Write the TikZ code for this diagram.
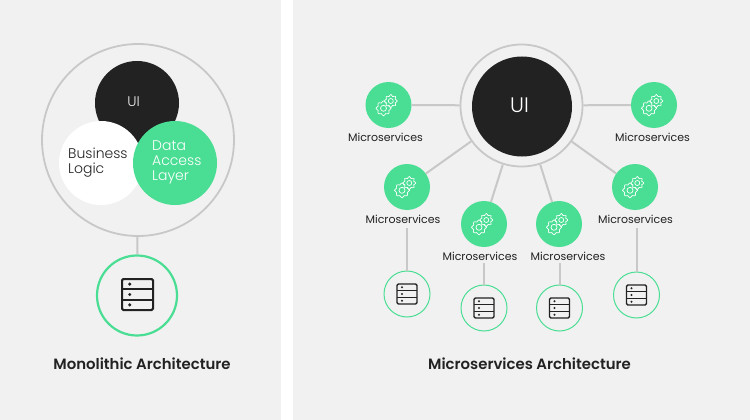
\documentclass[tikz,border=0pt]{standalone}
\usepackage{fontspec}
\setmainfont{Poppins}
\newfontfamily\titlefont{Poppins SemiBold}
\newfontfamily\lightfont{Poppins Light}
\definecolor{panelgray}{HTML}{F1F1F1}
\definecolor{ringgray}{HTML}{C8C8C8}
\definecolor{darkfill}{HTML}{222222}
\definecolor{mintgreen}{HTML}{4ADE94}
\tikzset{
  ring/.style={circle,draw=ringgray,line width=1.8pt,fill=panelgray,minimum size=#1,inner sep=0pt},
  blob/.style={circle,fill=#1,minimum size=84pt,inner sep=0pt},
  blobtext/.style={font=\fontsize{14}{15}\selectfont\lightfont,align=left,inner sep=0pt},
  service/.style={circle,fill=mintgreen,minimum size=46pt,inner sep=0pt},
  store/.style={circle,draw=mintgreen,line width=1pt,fill=panelgray,minimum size=46pt,inner sep=0pt},
  link/.style={draw=ringgray,line width=2pt},
  caption/.style={font=\fontsize{11}{12}\selectfont,text=darkfill,inner sep=0pt},
  title/.style={font=\fontsize{14.9}{16}\selectfont\titlefont,text=darkfill,inner sep=0pt},
  pics/cogs/.style={code={
    \foreach \cx/\cy/\rm/\hole in {-5/3.3/6.6/3,2.3/-4/5.6/2.5} {
      \draw[white,fill=mintgreen,line width=.7pt,line join=round]
        plot[samples at={0,11.25,...,348.75},smooth cycle,tension=.2]
          ({\cx+(\rm+.9*cos(8*\x))*cos(\x)},{\cy+(\rm+.9*cos(8*\x))*sin(\x)});
      \draw[white,line width=.7pt] (\cx,\cy) circle (\hole);
    }
  }},
  pics/rack/.style={code={
    \draw[darkfill,line width=#1,rounded corners=1.4pt] (-10,-10) rectangle (10,10);
    \draw[darkfill,line width=#1] (-10,-3.3) -- (10,-3.3) (-10,3.3) -- (10,3.3);
    \foreach \py in {-6.7,0,6.7} \fill[darkfill] (-5,\py) circle (1.1);
  }},
}
\begin{document}
\begin{tikzpicture}[x=1pt,y=-1pt]
  \useasboundingbox (0,0) rectangle (750,420);
  % panels
  \fill[panelgray] (0,0) rectangle (281,420);
  \fill[panelgray] (293,0) rectangle (750,420);
  % monolith
  \node[store,line width=2.2pt,minimum size=80pt] (mono db) at (137,295.5) {};
  \node[ring=192pt] (mono) at (138,140) {};
  \draw[link] (mono) -- (mono db);
  \node[blob=darkfill] (mono ui) at (137,103) {};
  \node[blob=white] (mono logic) at (101,163) {};
  \node[blob=mintgreen] (mono data) at (175,163) {};
  \node[blobtext,text=panelgray] (ui text) at (133.5,102) {UI};
  \node[blobtext,text=darkfill,anchor=west] (logic text) at (68,163) {Business\\Logic};
  \node[blobtext,text=white,anchor=west] (data text) at (152,162) {Data\\Access\\Layer};
  \pic[scale=1.55] at (137.5,294.5) {rack=2pt};
  \node[title] (mono title) at (142,364) {Monolithic Architecture};
  % microservices
  \node[ring=122pt] (hub) at (521.5,105.5) {};
  \foreach \name/\x/\y/\cx/\ly in {a/388.5/105/385.5/137,b/654/105/652.5/137,
      c/407/187/403/219,d/484/224/480/256,e/559/224/568/256,f/635/187/635.5/219} {
    \node[service] (svc \name) at (\x,\y) {};
    \pic at (svc \name) {cogs};
    \node[caption] (cap \name) at (\cx,\ly) {Microservices};
    \draw[link] (hub) -- (svc \name);
  }
  \node[blob=darkfill,minimum size=100pt] (hub ui) at (522,106.5) {};
  \node[blobtext,font=\fontsize{21}{22}\selectfont\lightfont,text=white] (hub text) at (519.5,105) {UI};
  % databases
  \foreach \name/\x/\y/\ty in {c/407/294/228,d/484/308/263,e/559.5/308/263,f/636.5/295/228} {
    \node[store] (db \name) at (\x,\y) {};
    \pic at (db \name) {rack=1.4pt};
    \coordinate (tap \name) at (\x,\ty);
    \draw[link] (tap \name) -- (db \name);
  }
  \node[title] (micro title) at (529.5,364) {Microservices Architecture};
\end{tikzpicture}
\end{document}
